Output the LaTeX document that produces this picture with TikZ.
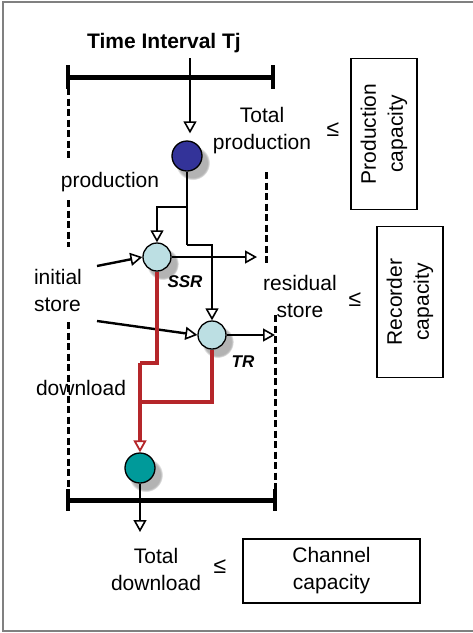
\documentclass[tikz,border=0pt]{standalone}
\usepackage{fontspec}
\setmainfont{Liberation Sans}
\usetikzlibrary{positioning,arrows.meta,shadows}
\definecolor{prodblue}{HTML}{333399}
\definecolor{storecyan}{HTML}{BCDFE3}
\definecolor{dlteal}{HTML}{009A9A}
\definecolor{dlred}{HTML}{B5262A}

\begin{document}
\begin{tikzpicture}[
  x=1pt, y=-1pt,
  font=\fontsize{21}{27}\selectfont,
  txt/.style={align=center, inner sep=0pt},
  tag/.style={font=\fontsize{17}{20}\selectfont\bfseries\itshape, inner sep=0pt},
  leq/.style={font=\fontsize{23}{25}\selectfont, inner sep=0pt},
  capbox/.style={draw, line width=1.4pt, align=center, minimum width=151pt, minimum height=66pt, inner sep=2pt},
  event/.style={circle, draw, line width=1.3pt, minimum size=29pt, inner sep=0pt,
    circular drop shadow={shadow xshift=5pt, shadow yshift=-6pt, shadow scale=1.15, opacity=.6}},
  wire/.style={line width=2.4pt},
  flow/.style={wire, -{Triangle[open, length=12pt, width=13pt, line width=1.6pt]}},
  dlflow/.style={line width=3.4pt, draw=dlred, -{Triangle[open, length=12pt, width=13pt, line width=1.8pt]}},
  dlwire/.style={line width=3.4pt, draw=dlred},
  axisbar/.style={line width=5pt},
  endtick/.style={line width=4.5pt},
  limit/.style={line width=3pt, dash pattern=on 7pt off 3.5pt}
]
\useasboundingbox (0,0) rectangle (473,633);
\draw[gray, line width=2.5pt] (3,2) rectangle (476,631);

\node[font=\fontsize{21}{25}\selectfont\bfseries, inner sep=0pt] (title) at (164,43) {Time Interval Tj};

% interval bars and limits
\draw[axisbar] (68,77) -- (273,77);
\draw[endtick] (68,65) -- (68,89);
\draw[endtick] (273,65) -- (273,89);
\draw[axisbar] (68,500) -- (275,500);
\draw[endtick] (68,489) -- (68,511);
\draw[endtick] (275,489) -- (275,511);
\draw[limit] (68,88) -- (68,158);
\draw[limit] (68,200) -- (68,247);
\draw[limit] (68,322) -- (68,490);
\draw[limit] (266,172) -- (266,265);
\draw[limit] (275,315) -- (275,490);

% events
\node[event, fill=prodblue, minimum size=30pt] (prod) at (187,156) {};
\node[event, fill=storecyan, minimum size=28pt] (ssr) at (157,257) {};
\node[event, fill=storecyan, minimum size=28pt] (tr) at (212,335) {};
\node[event, fill=dlteal, minimum size=30pt] (dl) at (140,468) {};

\coordinate (src) at (190,58);
\coordinate (split1) at (187,207);
\coordinate (split2) at (187,245);
\coordinate (init1) at (97,266);
\coordinate (init2) at (97,321);
\coordinate (ssrout) at (257,257);
\coordinate (trout) at (275,335);
\coordinate (redj) at (140,363);
\coordinate (redk) at (140,402);
\coordinate (sink) at (140,532);

\draw[flow, shorten >=7pt] (src) -- (src |- prod.north);
\draw[wire] (prod.south) -- (split2);
\draw[flow] (split1) -| (ssr.north);
\draw[flow] (split2) -| (tr.north);
\draw[flow] (ssr.east) -- (ssrout);
\draw[flow] (tr.east) -- (trout);
\draw[flow] (init1) -- (ssr.west);
\draw[flow] (init2) -- (tr.west);
\draw[dlwire] (ssr.south) |- (redj);
\draw[dlwire] (tr.south) |- (redk);
\draw[dlflow] (redj) -- (dl.north);
\draw[flow] (dl.south) -- (sink);

% labels
\node[txt] (totprod) at (262,131) {Total\\production};
\node[txt] (prodlbl) at (110,182) {production};
\node[txt, align=left] (initstore) at (58,290) {initial\\store};
\node[txt] (resstore) at (300,296) {residual\\store};
\node[txt] (dllbl) at (81,388) {download};
\node[txt] (totdl) at (156,569) {Total\\download};
\node[tag] (ssrtag) at (185,282) {SSR};
\node[tag] (trtag) at (243,362) {TR};

% capacities
\node[capbox, rotate=90] (prodcap) at (384,134) {Production\\capacity};
\node[capbox, rotate=90] (reccap) at (410,302) {Recorder\\capacity};
\node[capbox, minimum width=177pt, minimum height=64pt] (chancap) at (331.5,571) {Channel\\capacity};
\node[leq] (leqprod) at (333,130) {≤};
\node[leq] (leqrec) at (355,300) {≤};
\node[leq] (leqchan) at (220,567) {≤};
\end{tikzpicture}
\end{document}
